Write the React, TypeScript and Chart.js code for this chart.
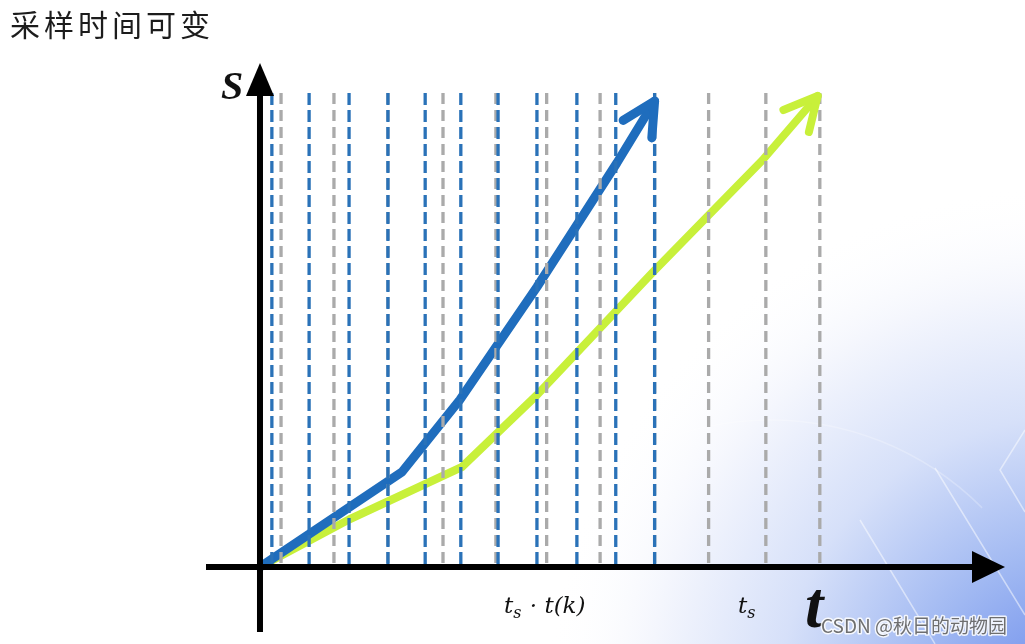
import { useEffect, useRef } from "react";
import { Chart, registerables } from "chart.js";

Chart.register(...registerables);

// ---- data (time in sampling units t_s, distance in arbitrary units) ----
const blueSampleTimes = [0.22, 0.91, 1.65, 2.37, 3.06, 3.72, 4.41, 5.13, 5.87, 6.59, 7.31];
const graySampleTimes = [0.39, 1.37, 2.37, 3.39, 4.37, 5.31, 6.3, 7.31, 8.31, 9.37, 10.37];
const sampleLineTop = 9.48;

const blueTimes = [0, 2.63, 3.7, 5.13, 6.61, 7.31];
const blueValues = [0, 1.9, 3.34, 5.6, 8.08, 9.32];

const greenTimes = [0, 1.65, 3.74, 5.13, 7.28, 9.31, 10.33];
const greenValues = [0, 0.95, 2.0, 3.44, 5.9, 8.14, 9.42];

const titleText = "采样时间可变";
const yAxisLabel = "S";
const xAxisLabel = "t";
const watermark = "CSDN @秋日的动物园";

const BLUE = "#1f6dbd";
const BLUE_DASH = "#2a72b8";
const GRAY_DASH = "#aaaaaa";
const GREEN = "#c8f03a";

const toPts = (xs: number[], ys: number[]) => xs.map((x, i) => ({ x, y: ys[i] }));

const backgroundPlugin = {
  id: "bg",
  beforeDraw(chart: any) {
    const { ctx, width, height } = chart;
    ctx.save();
    ctx.fillStyle = "#ffffff";
    ctx.fillRect(0, 0, width, height);
    const g = ctx.createRadialGradient(width + 40, height + 60, 0, width + 40, height + 60, 520);
    g.addColorStop(0, "rgba(105,138,236,1)");
    g.addColorStop(0.28, "rgba(160,184,242,1)");
    g.addColorStop(0.55, "rgba(214,224,249,1)");
    g.addColorStop(0.8, "rgba(244,246,253,1)");
    g.addColorStop(1, "rgba(255,255,255,0)");
    ctx.fillStyle = g;
    ctx.fillRect(0, 0, width, height);
    ctx.strokeStyle = "rgba(255,255,255,0.5)";
    ctx.lineWidth = 1.5;
    ctx.beginPath();
    ctx.moveTo(860, 520);
    ctx.lineTo(935, 644);
    ctx.moveTo(935, 468);
    ctx.lineTo(1025, 615);
    ctx.moveTo(1025, 430);
    ctx.lineTo(1000, 470);
    ctx.lineTo(1025, 512);
    ctx.stroke();
    ctx.strokeStyle = "rgba(255,255,255,0.25)";
    ctx.beginPath();
    ctx.arc(770, 720, 300, Math.PI * 1.12, Math.PI * 1.75);
    ctx.stroke();
    ctx.restore();
  },
};

const decorPlugin = {
  id: "decor",
  afterDatasetsDraw(chart: any) {
    const { ctx, scales, chartArea } = chart;
    const xs = scales.x;
    const ys = scales.y;
    const ox = xs.getPixelForValue(0);
    const oy = ys.getPixelForValue(0);
    ctx.save();

    // arrowheads on the two series
    [0, 1].forEach((di) => {
      const meta = chart.getDatasetMeta(di);
      const pts = meta.data;
      const a = pts[pts.length - 2];
      const b = pts[pts.length - 1];
      const ang = Math.atan2(b.y - a.y, b.x - a.x);
      const len = 37;
      const spread = (27 * Math.PI) / 180;
      const ds = chart.data.datasets[di];
      ctx.strokeStyle = ds.borderColor;
      ctx.lineWidth = ds.borderWidth;
      ctx.lineCap = "round";
      ctx.lineJoin = "round";
      ctx.beginPath();
      ctx.moveTo(b.x - len * Math.cos(ang - spread), b.y - len * Math.sin(ang - spread));
      ctx.lineTo(b.x, b.y);
      ctx.lineTo(b.x - len * Math.cos(ang + spread), b.y - len * Math.sin(ang + spread));
      ctx.stroke();
    });

    // axes
    ctx.strokeStyle = "#000";
    ctx.fillStyle = "#000";
    ctx.lineCap = "butt";
    ctx.lineWidth = 6;
    ctx.beginPath();
    ctx.moveTo(chartArea.left, oy);
    ctx.lineTo(chartArea.right - 20, oy);
    ctx.moveTo(ox, chartArea.bottom);
    ctx.lineTo(ox, chartArea.top + 20);
    ctx.stroke();
    // x arrow
    ctx.beginPath();
    ctx.moveTo(chartArea.right, oy);
    ctx.lineTo(chartArea.right - 33, oy - 16);
    ctx.lineTo(chartArea.right - 33, oy + 16);
    ctx.closePath();
    ctx.fill();
    // y arrow
    ctx.beginPath();
    ctx.moveTo(ox, chartArea.top);
    ctx.lineTo(ox - 14, chartArea.top + 33);
    ctx.lineTo(ox + 14, chartArea.top + 33);
    ctx.closePath();
    ctx.fill();

    // axis labels
    ctx.fillStyle = "#111";
    ctx.textBaseline = "alphabetic";
    ctx.font = 'italic bold 40px "Liberation Serif"';
    ctx.fillText(yAxisLabel, 221, 99);
    ctx.font = 'italic bold 66px "Liberation Serif"';
    ctx.fillText(xAxisLabel, 805, 627);

    // t_s · t(k)
    const drawSubLabel = (x: number, base: number, tail: string) => {
      ctx.font = 'italic 23px "DejaVu Serif"';
      ctx.fillText("t", x, base);
      let cx = x + ctx.measureText("t").width;
      ctx.font = 'italic 16px "DejaVu Serif"';
      ctx.fillText("s", cx, base + 5);
      cx += ctx.measureText("s").width;
      if (tail) {
        ctx.font = 'italic 23px "DejaVu Serif"';
        ctx.fillText(tail, cx + 1, base);
      }
    };
    drawSubLabel(504, 613, " · t(k)");
    drawSubLabel(738, 613, "");

    // title
    ctx.fillStyle = "#1c1c1c";
    ctx.font = '30px "Noto Sans CJK SC"';
    (ctx as any).letterSpacing = "4px";
    ctx.fillText(titleText, 10, 36);
    (ctx as any).letterSpacing = "0px";

    // watermark
    ctx.font = '19px "Noto Sans CJK SC"';
    ctx.textBaseline = "middle";
    ctx.lineWidth = 3;
    ctx.strokeStyle = "rgba(255,255,255,0.85)";
    ctx.lineJoin = "round";
    ctx.strokeText(watermark, 821, 626);
    ctx.fillStyle = "rgba(95,95,95,0.9)";
    ctx.fillText(watermark, 821, 626);

    ctx.restore();
  },
};

export default function App() {
  const ref = useRef<HTMLCanvasElement | null>(null);

  useEffect(() => {
    if (!ref.current) return;
    const dashSet = (t: number, color: string, dash: number[], order: number) => ({
      data: [
        { x: t, y: sampleLineTop },
        { x: t, y: 0 },
      ],
      borderColor: color,
      borderWidth: 3.3,
      borderDash: dash,
      borderCapStyle: "butt" as const,
      pointRadius: 0,
      order,
    });
    const chart = new Chart(ref.current, {
      type: "line",
      data: {
        datasets: [
          {
            data: toPts(blueTimes, blueValues),
            borderColor: BLUE,
            borderWidth: 9,
            borderCapStyle: "round",
            borderJoinStyle: "round",
            pointRadius: 0,
            order: 10,
          } as any,
          {
            data: toPts(greenTimes, greenValues),
            borderColor: GREEN,
            borderWidth: 8,
            borderCapStyle: "round",
            borderJoinStyle: "round",
            pointRadius: 0,
            order: 11,
          } as any,
          ...graySampleTimes.map((t) => dashSet(t, GRAY_DASH, [11, 6], 5)),
          ...blueSampleTimes.map((t) => dashSet(t, BLUE_DASH, [12, 5], 1)),
        ],
      },
      options: {
        responsive: false,
        animation: false,
        events: [],
        layout: { padding: { left: 206, right: 20, top: 63, bottom: 12 } },
        scales: {
          x: { type: "linear", min: -1, max: 13.8, display: false },
          y: { type: "linear", min: -1.3, max: 10.08, display: false },
        },
        plugins: { legend: { display: false }, tooltip: { enabled: false } },
      },
      plugins: [backgroundPlugin, decorPlugin],
    });
    return () => chart.destroy();
  }, []);

  return (
    <div style={{ position: "fixed", left: 0, top: 0, width: 1025, height: 644 }}>
      <canvas ref={ref} width={1025} height={644} style={{ display: "block" }} />
    </div>
  );
}
